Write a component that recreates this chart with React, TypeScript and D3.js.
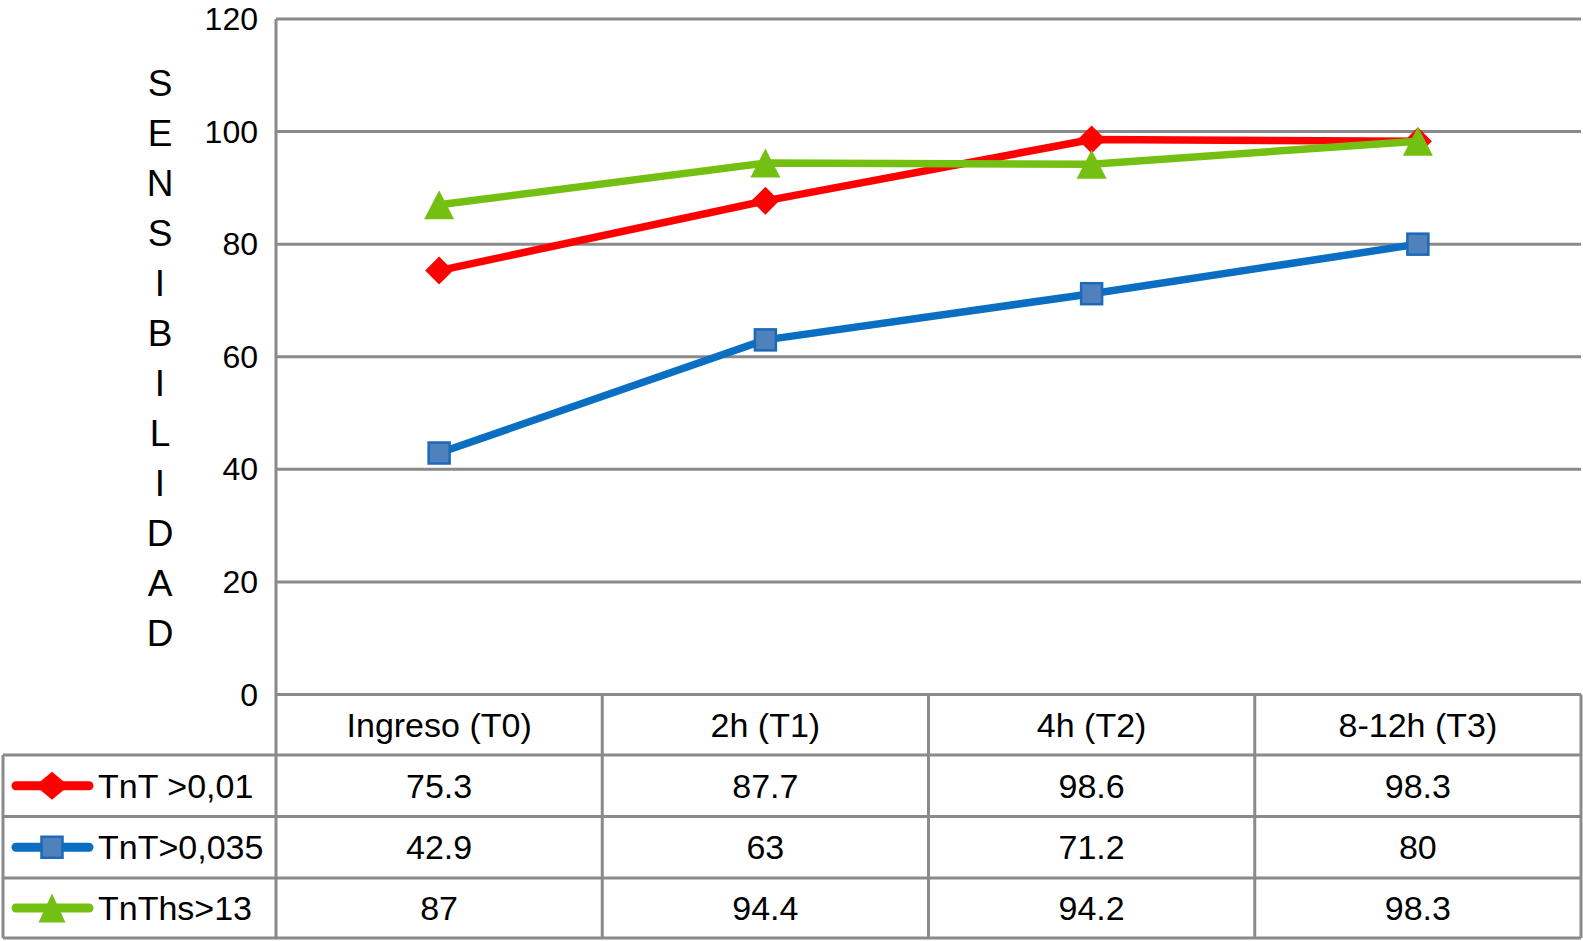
import React from "react";
import * as d3 from "d3";

const categories = ["Ingreso (T0)", "2h (T1)", "4h (T2)", "8-12h (T3)"];
const seriesNames = ["TnT >0,01", "TnT>0,035", "TnThs>13"];
const tnt001 = [75.3, 87.7, 98.6, 98.3];
const tnt0035 = [42.9, 63, 71.2, 80];
const tnths13 = [87, 94.4, 94.2, 98.3];
const yTicks = [0, 20, 40, 60, 80, 100, 120];
const axisTitle = "SENSIBILIDAD";

const W = 1583;
const H = 941;
const FONT = "'Liberation Sans', Arial, Helvetica, sans-serif";
const GRID = "#8a8a8a";

type Marker = "diamond" | "square" | "triangle";
const series: { name: string; values: number[]; color: string; marker: Marker; fill: string; stroke: string }[] = [
  { name: seriesNames[0], values: tnt001, color: "#ff0000", marker: "diamond", fill: "#ff0000", stroke: "#ff0000" },
  { name: seriesNames[1], values: tnt0035, color: "#0a6fc2", marker: "square", fill: "#4f81bd", stroke: "#1d69b8" },
  { name: seriesNames[2], values: tnths13, color: "#74c012", marker: "triangle", fill: "#74c012", stroke: "#74c012" },
];

function MarkerShape({ type, x, y, fill, stroke, scale = 1 }: { type: Marker; x: number; y: number; fill: string; stroke: string; scale?: number }) {
  if (type === "diamond") {
    const w = 14 * scale, h = 14;
    return <path d={`M${x},${y - h} L${x + w},${y} L${x},${y + h} L${x - w},${y} Z`} fill={fill} />;
  }
  if (type === "square") {
    const s = 10.5;
    return <rect x={x - s} y={y - s} width={2 * s} height={2 * s} fill={fill} stroke={stroke} strokeWidth={2.5} />;
  }
  const w = 15 * (scale === 1 ? 1 : 0.9), h = 14.5;
  return <path d={`M${x},${y - h} L${x + w},${y + h} L${x - w},${y + h} Z`} fill={fill} />;
}

export default function App() {
  const plotLeft = 276;
  const plotRight = 1581;
  const y = d3.scaleLinear().domain([0, 120]).range([694.5, 19]);
  const x = d3.scaleBand<string>().domain(categories).range([plotLeft, plotRight]).padding(0);
  const cx = (c: string) => (x(c) as number) + x.bandwidth() / 2;

  const rowEdges = [694.5, 755, 816.5, 878, 938];
  const tableLeft = 3;
  const line = d3
    .line<number>()
    .x((_, i) => cx(categories[i]))
    .y((v) => y(v));

  return (
    <svg width={W} height={H} style={{ position: "absolute", left: 0, top: 0, background: "#fff" }} fontFamily={FONT}>
      <rect x={0} y={0} width={W} height={H} fill="#fff" />
      {yTicks.map((t) => (
        <line key={t} x1={plotLeft} x2={plotRight} y1={y(t)} y2={y(t)} stroke={GRID} strokeWidth={3} />
      ))}
      {yTicks.map((t) => (
        <text key={"l" + t} x={258} y={y(t)} textAnchor="end" dominantBaseline="central" fontSize={32} fill="#000">
          {t}
        </text>
      ))}
      {axisTitle.split("").map((ch, i) => (
        <text key={"a" + i} x={160} y={83 + i * 50} textAnchor="middle" dominantBaseline="central" fontSize={37} fill="#000">
          {ch}
        </text>
      ))}
      {rowEdges.slice(1).map((ry, i) => (
        <line key={"r" + i} x1={tableLeft} x2={plotRight} y1={ry} y2={ry} stroke={GRID} strokeWidth={3} />
      ))}
      <line x1={tableLeft} x2={tableLeft} y1={rowEdges[1]} y2={rowEdges[4]} stroke={GRID} strokeWidth={3} />
      <line x1={plotLeft} x2={plotLeft} y1={y(120)} y2={rowEdges[4]} stroke={GRID} strokeWidth={3} />
      {categories.map((c) => (
        <line key={"v" + c} x1={(x(c) as number) + x.bandwidth()} x2={(x(c) as number) + x.bandwidth()} y1={rowEdges[0]} y2={rowEdges[4]} stroke={GRID} strokeWidth={3} />
      ))}
      {categories.map((c) => (
        <text key={"h" + c} x={cx(c)} y={(rowEdges[0] + rowEdges[1]) / 2} textAnchor="middle" dominantBaseline="central" fontSize={34} fill="#000">
          {c}
        </text>
      ))}
      {series.map((s, si) => {
        const ym = (rowEdges[si + 1] + rowEdges[si + 2]) / 2;
        return (
          <g key={"row" + s.name}>
            <line x1={16} x2={89} y1={ym} y2={ym} stroke={s.color} strokeWidth={9} strokeLinecap="round" />
            <MarkerShape type={s.marker} x={52} y={ym} fill={s.fill} stroke={s.stroke} scale={s.marker === "diamond" ? 1.2 : 0.9} />
            <text x={98} y={ym} dominantBaseline="central" fontSize={34} fill="#000">
              {s.name}
            </text>
            {s.values.map((v, i) => (
              <text key={i} x={cx(categories[i])} y={ym} textAnchor="middle" dominantBaseline="central" fontSize={34} fill="#000">
                {v}
              </text>
            ))}
          </g>
        );
      })}
      {series.map((s) => (
        <g key={"s" + s.name}>
          <path d={line(s.values) || ""} fill="none" stroke={s.color} strokeWidth={7.5} strokeLinejoin="round" />
          {s.values.map((v, i) => (
            <MarkerShape key={i} type={s.marker} x={cx(categories[i])} y={y(v)} fill={s.fill} stroke={s.stroke} />
          ))}
        </g>
      ))}
    </svg>
  );
}
